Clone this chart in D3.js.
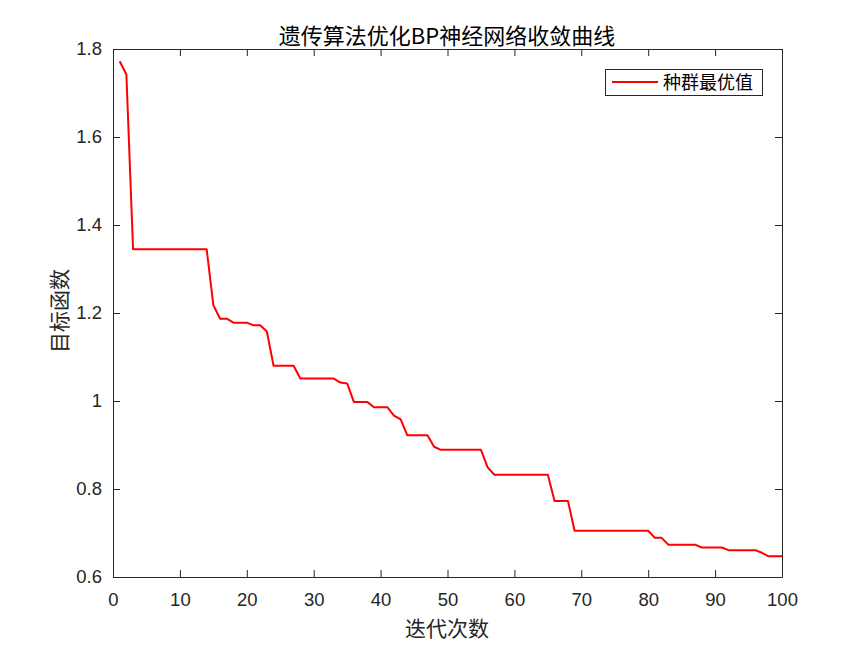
<!DOCTYPE html>
<html>
<head>
<meta charset="utf-8">
<script src="https://cdn.jsdelivr.net/npm/d3@7"></script>
<style>
  html, body { margin: 0; padding: 0; background: #fff; }
  svg { display: block; }
</style>
</head>
<body>
<svg id="chart" width="865" height="649"></svg>
<script>
// ---- data ----
const title = "遗传算法优化BP神经网络收敛曲线";
const xLabel = "迭代次数";
const yLabel = "目标函数";
const seriesName = "种群最优值";
// best fitness per generation, generations 1..100
const bestValues = [
  1.772, 1.742, 1.345, 1.345, 1.345, 1.345, 1.345, 1.345, 1.345, 1.345,
  1.345, 1.345, 1.345, 1.345, 1.218, 1.187, 1.187, 1.178, 1.178, 1.178,
  1.172, 1.172, 1.158, 1.080, 1.080, 1.080, 1.080, 1.051, 1.051, 1.051,
  1.051, 1.051, 1.051, 1.042, 1.040, 0.998, 0.998, 0.998, 0.986, 0.986,
  0.986, 0.967, 0.958, 0.922, 0.922, 0.922, 0.922, 0.896, 0.889, 0.889,
  0.889, 0.889, 0.889, 0.889, 0.889, 0.849, 0.8325, 0.8325, 0.8325, 0.8325,
  0.8325, 0.8325, 0.8325, 0.8325, 0.8325, 0.773, 0.773, 0.773, 0.705, 0.705,
  0.705, 0.705, 0.705, 0.705, 0.705, 0.705, 0.705, 0.705, 0.705, 0.705,
  0.689, 0.689, 0.6735, 0.6735, 0.6735, 0.6735, 0.6735, 0.667, 0.667, 0.667,
  0.667, 0.661, 0.661, 0.661, 0.661, 0.661, 0.655, 0.647, 0.647, 0.647
];
const xTicks = [0, 10, 20, 30, 40, 50, 60, 70, 80, 90, 100];
const yTicks = [0.6, 0.8, 1.0, 1.2, 1.4, 1.6, 1.8];
const yTickLabels = ["0.6", "0.8", "1", "1.2", "1.4", "1.6", "1.8"];

// ---- layout ----
const L = 113, R = 782, T = 49, B = 577;
const axisColor = "#262626";
const tickFont = "'Liberation Sans', Arial, sans-serif";
const cjkFont = "'Noto Sans CJK SC', sans-serif";
const tickLen = 7;

const svg = d3.select("#chart");
const x = d3.scaleLinear().domain([0, 100]).range([L, R]);
const y = d3.scaleLinear().domain([0.6, 1.8]).range([B, T]);

// data line
const line = d3.line()
  .x((d, i) => x(i + 1))
  .y(d => y(d));

svg.append("path")
  .datum(bestValues)
  .attr("d", line)
  .attr("fill", "none")
  .attr("stroke", "#ff0000")
  .attr("stroke-width", 2)
  .attr("stroke-linejoin", "round");

// axes (box with inward ticks on all four sides)
function styleAxis(g) {
  g.selectAll("path.domain").attr("stroke", axisColor).attr("stroke-width", 1);
  g.selectAll(".tick line").attr("stroke", axisColor).attr("stroke-width", 1);
  g.selectAll(".tick text")
    .attr("fill", axisColor)
    .style("font-family", tickFont)
    .style("font-size", "18.5px");
}

const xAxisB = d3.axisBottom(x).tickValues(xTicks).tickSizeInner(-tickLen).tickSizeOuter(0).tickPadding(16);
svg.append("g").attr("transform", `translate(0,${B})`).call(xAxisB).call(styleAxis);

const xAxisT = d3.axisTop(x).tickValues(xTicks).tickSizeInner(-tickLen).tickSizeOuter(0).tickFormat("");
svg.append("g").attr("transform", `translate(0,${T})`).call(xAxisT).call(styleAxis);

const yAxisL = d3.axisLeft(y).tickValues(yTicks).tickSizeInner(-tickLen).tickSizeOuter(0)
  .tickPadding(11)
  .tickFormat((d, i) => yTickLabels[i]);
svg.append("g").attr("transform", `translate(${L},0)`).call(yAxisL).call(styleAxis);

const yAxisR = d3.axisRight(y).tickValues(yTicks).tickSizeInner(-tickLen).tickSizeOuter(0).tickFormat("");
svg.append("g").attr("transform", `translate(${R},0)`).call(yAxisR).call(styleAxis);

// title
svg.append("text")
  .attr("x", 447).attr("y", 44)
  .attr("text-anchor", "middle")
  .attr("fill", "#000")
  .style("font-family", cjkFont)
  .style("font-size", "22px")
  .text(title);

// x label
svg.append("text")
  .attr("x", 447).attr("y", 636)
  .attr("text-anchor", "middle")
  .attr("fill", axisColor)
  .style("font-family", cjkFont)
  .style("font-size", "21px")
  .text(xLabel);

// y label
svg.append("text")
  .attr("transform", "translate(67,311) rotate(-90)")
  .attr("text-anchor", "middle")
  .attr("fill", axisColor)
  .style("font-family", cjkFont)
  .style("font-size", "21px")
  .text(yLabel);

// legend
const lg = svg.append("g");
lg.append("rect")
  .attr("x", 605.5).attr("y", 69.5)
  .attr("width", 157).attr("height", 26)
  .attr("fill", "#fff")
  .attr("stroke", axisColor)
  .attr("stroke-width", 1);
lg.append("line")
  .attr("x1", 612).attr("x2", 658)
  .attr("y1", 82).attr("y2", 82)
  .attr("stroke", "#ff0000")
  .attr("stroke-width", 2);
lg.append("text")
  .attr("x", 663).attr("y", 89)
  .attr("fill", "#000")
  .style("font-family", cjkFont)
  .style("font-size", "18px")
  .text(seriesName);
</script>
</body>
</html>
